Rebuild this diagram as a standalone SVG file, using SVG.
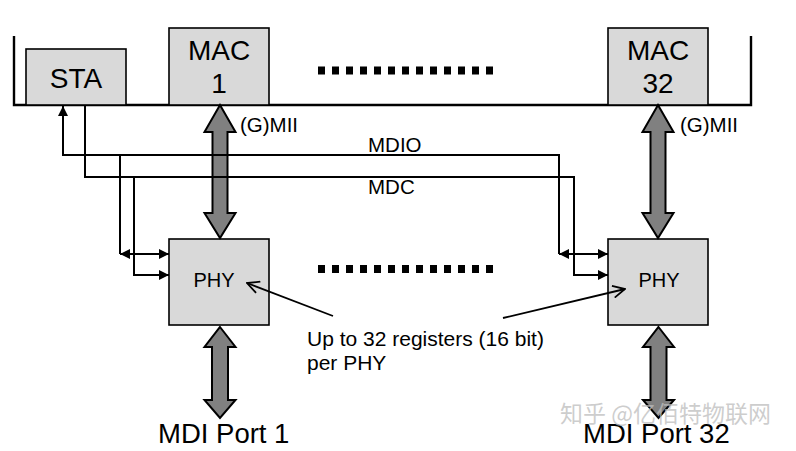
<svg xmlns="http://www.w3.org/2000/svg" width="796" height="451" viewBox="0 0 796 451">
<style>
  .box { fill: #d9d9d9; stroke: #000; stroke-width: 1.6; }
  .lbl { font-family: "Liberation Sans", Arial, sans-serif; fill: #000; }
  .wire { fill: none; stroke: #000; stroke-width: 2; }
  .big { fill: #808080; stroke: #000; stroke-width: 2; stroke-linejoin: miter; }
  .dots { stroke: #000; stroke-width: 8; stroke-dasharray: 7 7; }
  .note { fill: none; stroke: #000; stroke-width: 1.8; }
</style>
<defs>
  <marker id="ah" viewBox="0 0 10 10" refX="10" refY="5" markerWidth="10" markerHeight="10" markerUnits="userSpaceOnUse" orient="auto-start-reverse">
    <path d="M0,0 L10,5 L0,10 z" fill="#000"/>
  </marker>
  <marker id="open" viewBox="0 0 14 14" refX="13" refY="7" markerWidth="14" markerHeight="14" markerUnits="userSpaceOnUse" orient="auto">
    <path d="M1,1 L13,7 L1,13" fill="none" stroke="#000" stroke-width="1.8"/>
  </marker>
</defs>
<rect width="796" height="451" fill="#fff"/>

<!-- bus frame -->
<g id="bus">
  <path class="wire" d="M14,36 V105 H751 V36" style="stroke-width:2.4"/>
</g>

<g id="sta">
  <rect class="box" x="26" y="49" width="100" height="56"/>
  <text class="lbl" x="76" y="88" font-size="28" text-anchor="middle">STA</text>
</g>
<g id="mac1">
  <rect class="box" x="169" y="28" width="100" height="77"/>
  <text class="lbl" x="219" y="60" font-size="28" text-anchor="middle">MAC</text>
  <text class="lbl" x="219" y="93" font-size="28" text-anchor="middle">1</text>
</g>
<g id="mac32">
  <rect class="box" x="608" y="28" width="100" height="77"/>
  <text class="lbl" x="658" y="60" font-size="28" text-anchor="middle">MAC</text>
  <text class="lbl" x="658" y="93" font-size="28" text-anchor="middle">32</text>
</g>
<g id="phy1">
  <rect class="box" x="169" y="239" width="100" height="86"/>
  <text class="lbl" x="214" y="287" font-size="20" text-anchor="middle">PHY</text>
</g>
<g id="phy32">
  <rect class="box" x="608" y="239" width="100" height="86"/>
  <text class="lbl" x="659" y="287" font-size="20" text-anchor="middle">PHY</text>
</g>

<g id="ellipsis">
  <line class="dots" x1="318" y1="70.5" x2="495" y2="70.5"/>
  <line class="dots" x1="318" y1="269" x2="495" y2="269"/>
</g>

<g id="connectors">
  <!-- (G)MII arrows -->
  <polygon class="big" points="220,105 235.5,132 227.5,132 227.5,213 235.5,213 220,238 204.5,213 212.5,213 212.5,132 204.5,132"/>
  <polygon class="big" points="658,105 673.5,132 665.5,132 665.5,213 673.5,213 658,238 642.5,213 650.5,213 650.5,132 642.5,132"/>
  <!-- MDI arrows -->
  <polygon class="big" points="220,327 235.5,347 228,347 228,400 235.5,400 220,418 204.5,400 212,400 212,347 204.5,347"/>
  <polygon class="big" points="658.5,327 674,347 666.5,347 666.5,400 674,400 658.5,418 643,400 650.5,400 650.5,347 643,347"/>

  <!-- MDIO -->
  <path class="wire" d="M559,254 V155 H63 V106" marker-end="url(#ah)"/>
  <line class="wire" x1="120" y1="155" x2="120" y2="254"/>
  <line class="wire" x1="120" y1="254" x2="169" y2="254" marker-start="url(#ah)" marker-end="url(#ah)"/>
  <line class="wire" x1="559" y1="254" x2="608" y2="254" marker-start="url(#ah)" marker-end="url(#ah)"/>
  <!-- MDC -->
  <path class="wire" d="M85,105 V177 H574 V275 H608" marker-end="url(#ah)"/>
  <path class="wire" d="M134,177 V275 H169" marker-end="url(#ah)"/>

  <!-- annotation pointers -->
  <line class="note" x1="333" y1="316" x2="247" y2="283" marker-end="url(#open)"/>
  <line class="note" x1="503" y1="318" x2="625" y2="289" marker-end="url(#open)"/>
</g>

<g id="labels">
  <text class="lbl" x="240" y="132" font-size="20.5">(G)MII</text>
  <text class="lbl" x="680" y="132" font-size="20.5">(G)MII</text>
  <text class="lbl" x="368" y="152" font-size="20.5">MDIO</text>
  <text class="lbl" x="368" y="194" font-size="20.5">MDC</text>
  <text class="lbl" x="307" y="346" font-size="21">Up to 32 registers (16 bit)</text>
  <text class="lbl" x="307" y="370" font-size="21">per PHY</text>
  <text class="lbl" x="158" y="443" font-size="27.5">MDI Port 1</text>
  <text class="lbl" x="583" y="443" font-size="27.5">MDI Port 32</text>
</g>

<g id="watermark">
  <text x="560" y="422" font-size="23" font-family="'Noto Sans CJK SC', 'Noto Sans', sans-serif" fill="#bdbdbd" fill-opacity="0.75">知乎 @亿佰特物联网</text>
</g>
</svg>
